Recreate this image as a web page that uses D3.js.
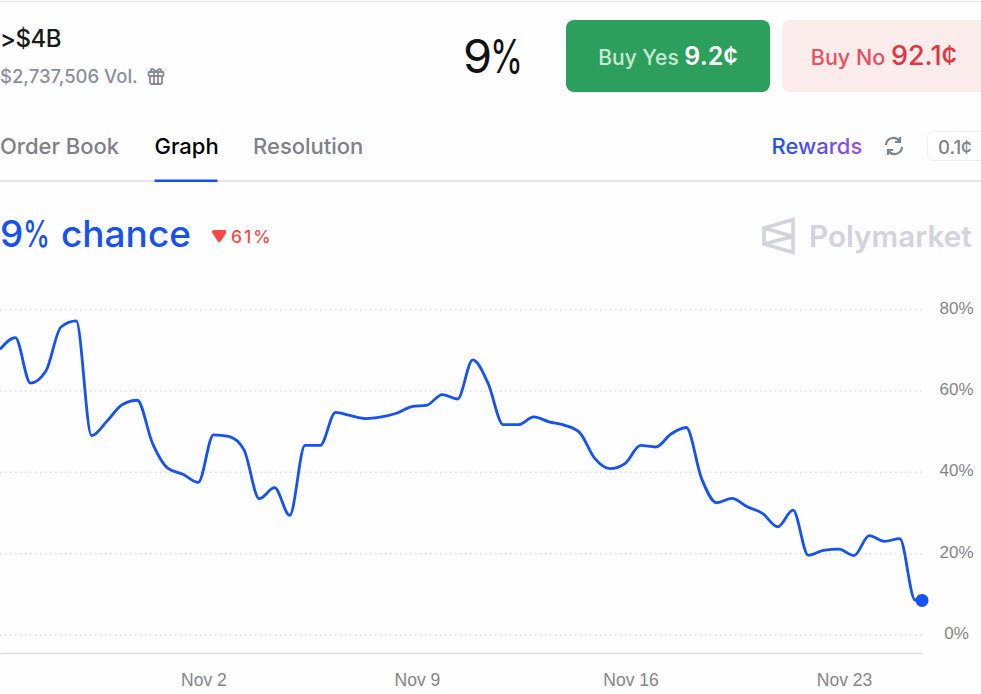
<!DOCTYPE html>
<html>
<head>
<meta charset="utf-8">
<script src="https://cdnjs.cloudflare.com/ajax/libs/d3/7.8.5/d3.min.js"></script>
<style>
html, body { margin: 0; padding: 0; background: #fefdff; overflow: hidden; }
svg { display: block; font-family: Inter, "Noto Sans", sans-serif; }
.axis-label { font-size: 17px; fill: #858585; }
.x-label { font-size: 17.500px; }
</style>
</head>
<body>
<svg id="chart"></svg>
<script>
// 12 hourly samples, last one is the live price
var times = [
    "10-26 07:30", "10-26 19:30", "10-27 07:30", "10-27 19:30", "10-28 07:30", "10-28 19:30",
    "10-29 07:30", "10-29 19:30", "10-30 07:30", "10-30 19:30", "10-31 07:30", "10-31 19:30",
    "11-01 07:30", "11-01 19:30", "11-02 07:30", "11-02 19:30", "11-03 07:30", "11-03 19:30",
    "11-04 07:30", "11-04 19:30", "11-05 07:30", "11-05 19:30", "11-06 07:30", "11-06 19:30",
    "11-07 07:30", "11-07 19:30", "11-08 07:30", "11-08 19:30", "11-09 07:30", "11-09 19:30",
    "11-10 07:30", "11-10 19:30", "11-11 07:30", "11-11 19:30", "11-12 07:30", "11-12 19:30",
    "11-13 07:30", "11-13 19:30", "11-14 07:30", "11-14 19:30", "11-15 07:30", "11-15 19:30",
    "11-16 07:30", "11-16 19:30", "11-17 07:30", "11-17 19:30", "11-18 07:30", "11-18 19:30",
    "11-19 07:30", "11-19 19:30", "11-20 07:30", "11-20 19:30", "11-21 07:30", "11-21 19:30",
    "11-22 07:30", "11-22 19:30", "11-23 07:30", "11-23 19:30", "11-24 07:30", "11-24 19:30",
    "11-25 07:30", "11-25 13:00"
];
var chance = [
    70.2, 73.1, 61.9, 64.8, 75.7, 77.2, 49.0, 52.5, 56.6, 57.7, 47.1, 41.0,
    39.5, 37.5, 49.2, 48.8, 45.5, 33.5, 36.2, 29.4, 46.6, 46.6, 54.7, 53.9,
    53.2, 53.6, 54.5, 56.1, 56.5, 59.1, 58.0, 67.6, 61.9, 51.7, 51.7, 53.6,
    52.4, 51.6, 49.8, 43.4, 40.9, 42.2, 46.6, 46.2, 49.4, 51.0, 38.5, 32.5,
    33.6, 31.5, 29.9, 26.6, 30.7, 19.6, 20.8, 21.1, 19.5, 24.4, 23.0, 23.7,
    8.6, 8.5
];
var yTicks = [0, 20, 40, 60, 80];
var xTicks = ["11-02 00:00", "11-09 00:00", "11-16 00:00", "11-23 00:00"];
var tabs = ["Order Book", "Graph", "Resolution"];

var width = 981, height = 694;
var BLUE = "#1652f0";
var parseTime = d3.utcParse("%Y-%m-%d %H:%M");
function toDate(s) { return parseTime("2023-" + s); }

var svg = d3.select("#chart").attr("width", width).attr("height", height);
var defs = svg.append("defs");

var rewardsGrad = defs.append("linearGradient").attr("id", "rewards-grad");
rewardsGrad.append("stop").attr("offset", "0%").attr("stop-color", "#1652f0");
rewardsGrad.append("stop").attr("offset", "100%").attr("stop-color", "#9b51e0");

function label(x, y, txt, size, fill, weight, anchor) {
    return svg.append("text")
        .attr("x", x).attr("y", y)
        .attr("font-size", size)
        .attr("fill", fill)
        .attr("font-weight", weight || 400)
        .attr("text-anchor", anchor || "start")
        .text(txt);
}

// header
svg.append("rect").attr("x", 0).attr("y", 1).attr("width", width).attr("height", 1).attr("fill", "#e8e8ea");
label(0, 47, ">$4B", 24, "#1a1a1a", 500).attr("letter-spacing", -0.5);
label(0, 83, "$2,737,506 Vol.", 18.500, "#8a8f9c", 500);
var gift = svg.append("g").attr("transform", "translate(148,68)")
    .attr("fill", "none").attr("stroke", "#858b98").attr("stroke-width", 1.800);
gift.append("rect").attr("x", 0.5).attr("y", 4).attr("width", 15).attr("height", 4).attr("rx", 1);
gift.append("path").attr("d", "M2 8v6.5a1.5 1.5 0 0 0 1.5 1.5h9a1.5 1.5 0 0 0 1.5-1.5V8M6 4v12M10 4v12M8 4C6 0 2.5 0 3 2.5 3.3 4 8 4 8 4M8 4c2-4 5.5-4 5-1.500C12.700 4 8 4 8 4");

// the reference % is much narrower than this font's, so it gets squeezed on its own
label(463, 73, "9", 47, "#111");
label(490, 73, "%", 47, "#111").attr("textLength", 33).attr("lengthAdjust", "spacingAndGlyphs");

// buy buttons
svg.append("rect").attr("x", 566).attr("y", 20).attr("width", 204).attr("height", 72).attr("rx", 8).attr("fill", "#2d9f5d");
svg.append("rect").attr("x", 782).attr("y", 20).attr("width", 220).attr("height", 72).attr("rx", 8).attr("fill", "#fdecec");
var yes = label(668, 65, "", 21, "#c9e8d5", 500, "middle");
yes.append("tspan").text("Buy Yes ");
yes.append("tspan").attr("font-size", 25).attr("font-weight", 600).attr("fill", "#fff").text("9.2¢");
var no = label(884, 65, "", 21.500, "#e8505b", 500, "middle");
no.append("tspan").text("Buy No ");
no.append("tspan").attr("font-size", 27).attr("fill", "#e5333f").text("92.1¢");

// tabs
var tabX = [0, 154.500, 253];
tabs.forEach(function (t, i) {
    label(tabX[i], 154, t, 22, i === 1 ? "#000" : "#7f8088", 500);
});
svg.append("rect").attr("x", 0).attr("y", 180).attr("width", width).attr("height", 2).attr("fill", "#e5e5e8");
svg.append("rect").attr("x", 154.500).attr("y", 179.500).attr("width", 63).attr("height", 2.500).attr("fill", BLUE);
label(771.500, 154, "Rewards", 22, "url(#rewards-grad)", 500);
var refresh = svg.append("g").attr("transform", "translate(885,137)")
    .attr("fill", "none").attr("stroke", "#7c8392").attr("stroke-width", 2.200);
refresh.append("path").attr("d", "M1 8a7.500 7.500 0 0 1 13.500-4M17 10a7.500 7.500 0 0 1-13.500 4");
refresh.append("path").attr("d", "M15 0v5h-5M3 18v-5h5");
svg.append("rect").attr("x", 927.500).attr("y", 131.500).attr("width", 70).attr("height", 29).attr("rx", 6)
    .attr("fill", "#fff").attr("stroke", "#eeeef2");
label(938, 154, "0.1¢", 18.500, "#7f8088", 500);

// chance headline
label(0, 247, "9", 37, BLUE, 500);
label(23, 247, "%", 37, BLUE, 500).attr("textLength", 27).attr("lengthAdjust", "spacingAndGlyphs");
label(61, 247, "chance", 37, BLUE, 500);
svg.append("path").attr("d", "M214 230h10.500c1.800 0 2.500 1.800 1.500 3.200l-5.300 8c-.9 1.200-2 1.200-2.900 0l-5.300-8c-1-1.400-.3-3.200 1.500-3.200z")
    .attr("fill", "#f84a45");
label(231, 243, "61%", 17.500, "#f84a45", 500).attr("letter-spacing", 2);

// watermark logo
var logo = svg.append("g").attr("fill", "none").attr("stroke", "#d2d3dd").attr("stroke-width", 3.500)
    .attr("stroke-linejoin", "miter");
logo.append("path").attr("d", "M793 219.500v33l-29-8.500v-16zM764 228l29 8.500M793 236.500l-29 7.500");
label(809, 247, "Polymarket", 29.700, "#d2d3dd", 600);

// chart
var x = d3.scaleUtc()
    .domain([toDate(times[0]), toDate(times[times.length - 1])])
    .range([0, 922]);
var y = d3.scaleLinear().domain([0, 80]).range([635, 309.500]);

svg.append("g").selectAll("line")
    .data(yTicks)
    .enter().append("line")
    .attr("x1", 0).attr("x2", 925)
    .attr("y1", function (d) { return y(d); })
    .attr("y2", function (d) { return y(d); })
    .attr("stroke", "#dcdcdc")
    .attr("stroke-width", 1.500)
    .attr("stroke-dasharray", "1.500 3.500");

var yAxis = svg.append("g").attr("transform", "translate(956.500,0)")
    .call(d3.axisRight(y).tickValues(yTicks).tickSize(0).tickPadding(0).tickFormat(function (d) { return d + "%"; }));
yAxis.select(".domain").remove();
yAxis.selectAll("text")
    .attr("class", "axis-label")
    .attr("text-anchor", "middle")
    .attr("y", 3.700)
    .attr("dy", "0");

var xAxis = svg.append("g").attr("transform", "translate(0,653)")
    .call(d3.axisBottom(x).tickValues(xTicks.map(toDate)).tickSize(0).tickPadding(0).tickFormat(d3.utcFormat("%b %-d")));
xAxis.select(".domain").attr("stroke", "#dddddf").attr("stroke-width", 1.500);
xAxis.selectAll("text")
    .attr("class", "axis-label x-label")
    .attr("x", -0.500)
    .attr("y", 33)
    .attr("dy", "0");

var line = d3.line()
    .x(function (d, i) { return x(toDate(times[i])); })
    .y(function (d) { return y(d); })
    .curve(d3.curveMonotoneX);

svg.append("path")
    .datum(chance)
    .attr("d", line)
    .attr("fill", "none")
    .attr("stroke", BLUE)
    .attr("stroke-width", 2.800);

svg.append("circle")
    .attr("cx", x(toDate(times[times.length - 1])))
    .attr("cy", y(chance[chance.length - 1]))
    .attr("r", 6.500)
    .attr("fill", BLUE);
</script>
</body>
</html>
